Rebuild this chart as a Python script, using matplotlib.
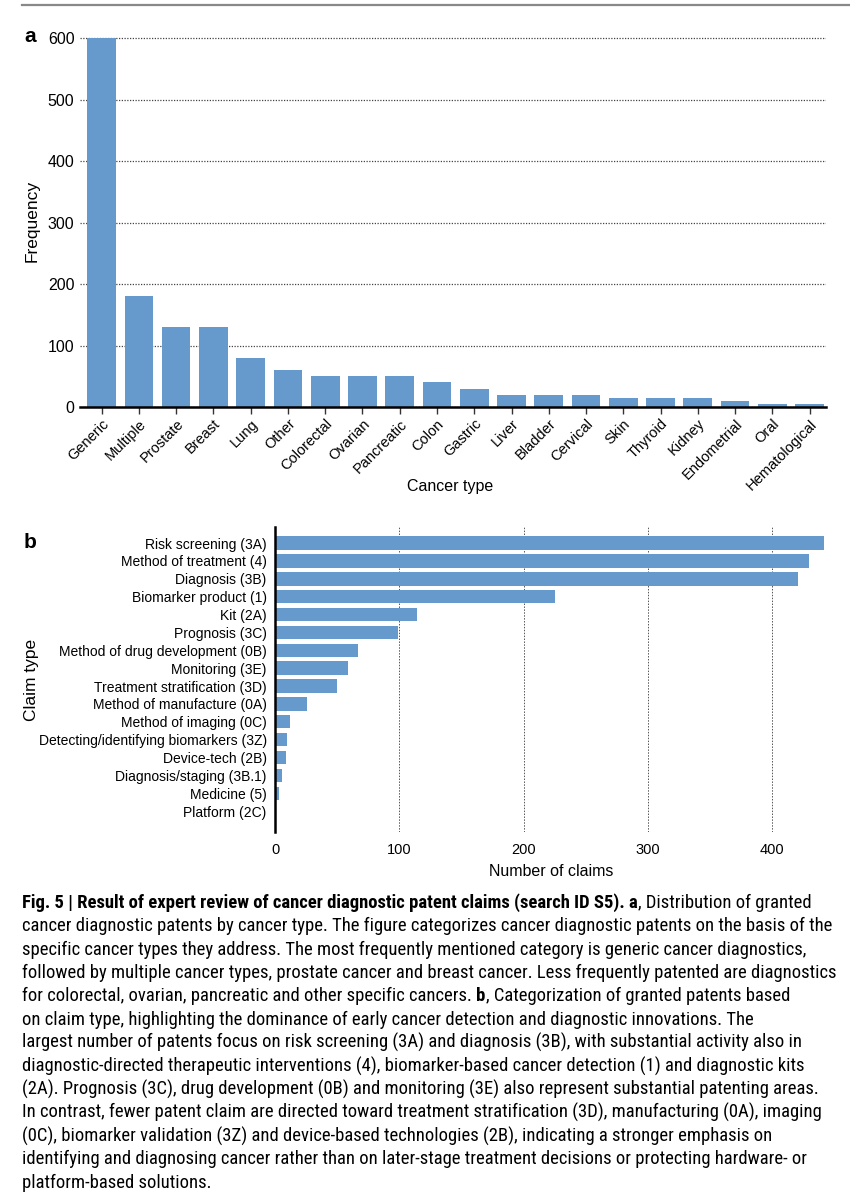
import matplotlib
matplotlib.use("Agg")
import matplotlib.pyplot as plt
from matplotlib import font_manager
from matplotlib.lines import Line2D

# panel a: cancer types
cancer_types = ["Generic", "Multiple", "Prostate", "Breast", "Lung", "Other",
                "Colorectal", "Ovarian", "Pancreatic", "Colon", "Gastric",
                "Liver", "Bladder", "Cervical", "Skin", "Thyroid", "Kidney",
                "Endometrial", "Oral", "Hematological"]
cancer_counts = [600, 180, 130, 130, 80, 60, 50, 50, 50, 40, 30,
                 20, 20, 20, 15, 15, 15, 10, 5, 5]
freq_ticks = [0, 100, 200, 300, 400, 500, 600]

# panel b: claim types
claim_types = ["Risk screening (3A)", "Method of treatment (4)", "Diagnosis (3B)",
               "Biomarker product (1)", "Kit (2A)", "Prognosis (3C)",
               "Method of drug development (0B)", "Monitoring (3E)",
               "Treatment stratification (3D)", "Method of manufacture (0A)",
               "Method of imaging (0C)", "Detecting/identifying biomarkers (3Z)",
               "Device-tech (2B)", "Diagnosis/staging (3B.1)", "Medicine (5)",
               "Platform (2C)"]
claim_counts = [442, 430, 421, 225, 114, 99, 67, 59, 50, 26, 12, 10, 9, 6, 3, 0]
claim_ticks = [0, 100, 200, 300, 400]

caption_lines = [
    [("Fig. 5 | Result of expert review of cancer diagnostic patent claims (search ID S5). a", "bold"),
     (", Distribution of granted", "normal")],
    [("cancer diagnostic patents by cancer type. The figure categorizes cancer diagnostic patents on the basis of the", "normal")],
    [("specific cancer types they address. The most frequently mentioned category is generic cancer diagnostics,", "normal")],
    [("followed by multiple cancer types, prostate cancer and breast cancer. Less frequently patented are diagnostics", "normal")],
    [("for colorectal, ovarian, pancreatic and other specific cancers.", "normal"), (" ", "normal"),
     ("b", "bold"), (", Categorization of granted patents based", "normal")],
    [("on claim type, highlighting the dominance of early cancer detection and diagnostic innovations. The", "normal")],
    [("largest number of patents focus on risk screening (3A) and diagnosis (3B), with substantial activity also in", "normal")],
    [("diagnostic-directed therapeutic interventions (4), biomarker-based cancer detection (1) and diagnostic kits", "normal")],
    [("(2A). Prognosis (3C), drug development (0B) and monitoring (3E) also represent substantial patenting areas.", "normal")],
    [("In contrast, fewer patent claim are directed toward treatment stratification (3D), manufacturing (0A), imaging", "normal")],
    [("(0C), biomarker validation (3Z) and device-based technologies (2B), indicating a stronger emphasis on", "normal")],
    [("identifying and diagnosing cancer rather than on later-stage treatment decisions or protecting hardware- or", "normal")],
    [("platform-based solutions.", "normal")],
]

W, H = 850, 1200
bar_color = "#6699cc"
plt.rcParams["font.family"] = ["Liberation Sans", "DejaVu Sans"]

# pick a narrow font for the caption if one is around
names = {f.name for f in font_manager.fontManager.ttflist}
cap_font = "Liberation Sans"
for cand in ["Liberation Sans Narrow", "Roboto Condensed", "Open Sans Condensed"]:
    if cand in names:
        cap_font = cand
        break

fig = plt.figure(figsize=(W / 100, H / 100), dpi=100)

# top rule
fig.add_artist(Line2D([22 / W, 1], [1 - 5 / H, 1 - 5 / H], color="#888888", lw=1.6))

# ---- panel a
ax1 = fig.add_axes([80 / W, 1 - 407 / H, 746 / W, 370 / H])
x = range(len(cancer_types))
ax1.bar(x, cancer_counts, width=0.77, color=bar_color, zorder=2)
ax1.set_xlim(-0.58, len(cancer_types) - 0.56)
ax1.set_ylim(0, 602)
ax1.set_yticks(freq_ticks)
ax1.set_xticks(list(x))
ax1.set_xticklabels(cancer_types, rotation=45, ha="right", rotation_mode="anchor", fontsize=10.5)
ax1.tick_params(axis="y", length=0, pad=4, labelsize=11.5)
ax1.tick_params(axis="x", length=5, width=1, pad=2, color="#333333")
ax1.yaxis.grid(True, linestyle=(0, (1, 1.2)), color="#444444", lw=0.9, zorder=0)
for s in ["top", "right", "left"]:
    ax1.spines[s].set_visible(False)
ax1.spines["bottom"].set_linewidth(1.8)
ax1.spines["bottom"].set_zorder(3)
fig.text(32 / W, 1 - 221 / H, "Frequency", rotation=90, ha="center", va="center", fontsize=12.5)
fig.text(450 / W, 1 - 487 / H, "Cancer type", ha="center", va="center", fontsize=11.5)
fig.text(30 / W, 1 - 37 / H, "a", ha="center", va="center", fontsize=15, fontweight="bold")

# ---- panel b
ax2 = fig.add_axes([275 / W, 1 - 832 / H, 553 / W, 305 / H])
y = range(len(claim_types))
ax2.barh(y, claim_counts, height=0.75, color=bar_color, zorder=2)
ax2.set_xlim(0, 445)
ax2.set_ylim(len(claim_types) + 0.17, -0.9)
ax2.set_yticks(list(y))
ax2.set_yticklabels(claim_types, fontsize=10)
ax2.set_xticks(claim_ticks)
ax2.tick_params(axis="y", length=0, pad=6)
ax2.tick_params(axis="x", length=0, pad=8, labelsize=10.5)
ax2.xaxis.grid(True, linestyle=(0, (1.5, 1.5)), color="#555555", lw=0.7, zorder=0)
for s in ["top", "right", "bottom"]:
    ax2.spines[s].set_visible(False)
ax2.spines["left"].set_linewidth(1.8)
ax2.spines["left"].set_zorder(3)
fig.text(32 / W, 1 - 680 / H, "Claim type", rotation=90, ha="center", va="center", fontsize=12.5)
fig.text(551 / W, 1 - 871 / H, "Number of claims", ha="center", va="center", fontsize=11.5)
fig.text(30 / W, 1 - 543 / H, "b", ha="center", va="center", fontsize=15, fontweight="bold")

# ---- caption, sized so the longest line fits the column
renderer = fig.canvas.get_renderer()


def seg_width(txt, weight, size):
    t = fig.text(0, 0, txt.replace(" ", "\u00a0"), fontsize=size, fontweight=weight, family=cap_font)
    w = t.get_window_extent(renderer).width
    t.remove()
    return w


def space_width(weight, size):
    return seg_width("a a", weight, size) - seg_width("aa", weight, size)


ref = caption_lines[3][0][0]
cap_size = 10 * 808 / seg_width(ref, "normal", 10)

for i, segs in enumerate(caption_lines):
    yy = 903 + i * 23.3
    xx = 22.0
    for txt, weight in segs:
        if txt == " ":
            xx += space_width(weight, cap_size)
            continue
        fig.text(xx / W, 1 - yy / H, txt, fontsize=cap_size, fontweight=weight,
                 family=cap_font, ha="left", va="center")
        xx += seg_width(txt, weight, cap_size)

fig.savefig("out.png", dpi=100)
